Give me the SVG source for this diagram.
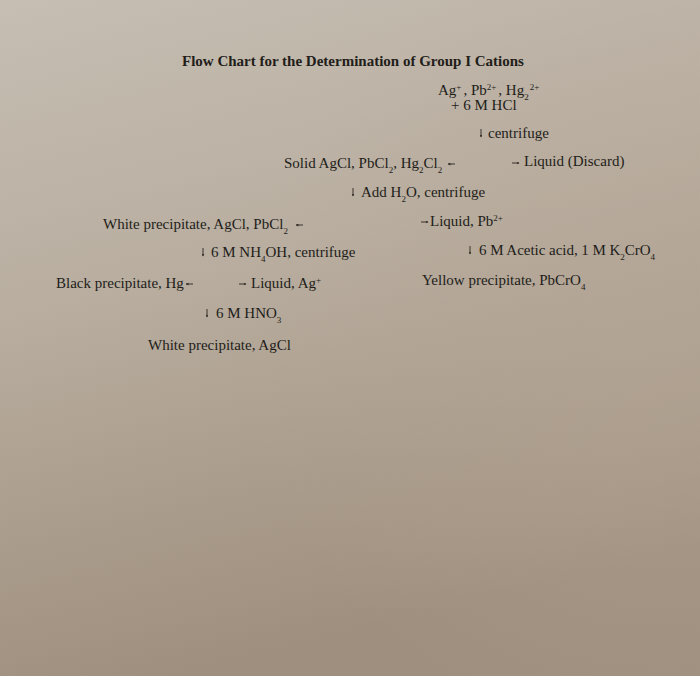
<svg xmlns="http://www.w3.org/2000/svg" width="700" height="676" viewBox="0 0 700 676">
<defs>
<linearGradient id="bg" x1="0" y1="0" x2="0.25" y2="1">
<stop offset="0" stop-color="#c6beb3"/>
<stop offset="0.45" stop-color="#b8ad9f"/>
<stop offset="1" stop-color="#9f8f7e"/>
</linearGradient>
<radialGradient id="shade" cx="0.95" cy="0.5" r="0.6">
<stop offset="0" stop-color="#b7a898" stop-opacity="0.5"/>
<stop offset="1" stop-color="#b7a898" stop-opacity="0"/>
</radialGradient>
<marker id="ah" viewBox="0 0 6 6" refX="5" refY="3" markerWidth="3" markerHeight="3" orient="auto">
<path d="M0,0 L6,3 L0,6 Z" fill="#3a332d"/>
</marker>
<style>
text{font-family:"Liberation Serif","Times New Roman",serif;font-size:15px;fill:#221d19}
.t{font-weight:bold;font-size:15px}
.s{font-size:9px}
.c line{stroke:#3a332d;stroke-width:1;marker-end:url(#ah)}
</style>
</defs>
<rect width="700" height="676" fill="url(#bg)"/>
<rect width="700" height="676" fill="url(#shade)"/>
<g id="title"><text class="t" x="182" y="66">Flow Chart for the Determination of Group I Cations</text></g>
<g id="start">
<text x="438" y="95">Ag<tspan class="s" baseline-shift="super">+</tspan><tspan dx="2">, Pb</tspan><tspan class="s" baseline-shift="super">2+</tspan><tspan dx="2">, Hg</tspan><tspan class="s" baseline-shift="sub">2</tspan><tspan class="s" dx="1" baseline-shift="super">2+</tspan></text>
<text x="451" y="110">+ 6 M HCl</text>
</g>
<g id="step-centrifuge"><text x="488" y="138">centrifuge</text></g>
<g id="solid"><text x="284" y="168">Solid AgCl, PbCl<tspan class="s" baseline-shift="sub">2</tspan>, Hg<tspan class="s" baseline-shift="sub">2</tspan>Cl<tspan class="s" baseline-shift="sub">2</tspan></text></g>
<g id="liquid-discard"><text x="524" y="166">Liquid (Discard)</text></g>
<g id="step-water"><text x="361" y="197">Add H<tspan class="s" baseline-shift="sub">2</tspan>O, centrifuge</text></g>
<g id="white-ppt-1"><text x="103" y="229">White precipitate, AgCl, PbCl<tspan class="s" baseline-shift="sub">2</tspan></text></g>
<g id="liquid-pb"><text x="430" y="226">Liquid, Pb<tspan class="s" baseline-shift="super">2+</tspan></text></g>
<g id="step-nh4oh"><text x="211" y="257">6 M NH<tspan class="s" baseline-shift="sub">4</tspan>OH, centrifuge</text></g>
<g id="step-acetic"><text x="479" y="255" textLength="176">6 M Acetic acid, 1 M K<tspan class="s" baseline-shift="sub">2</tspan>CrO<tspan class="s" baseline-shift="sub">4</tspan></text></g>
<g id="black-ppt"><text x="56" y="288">Black precipitate, Hg</text></g>
<g id="liquid-ag"><text x="251" y="288">Liquid, Ag<tspan class="s" baseline-shift="super">+</tspan></text></g>
<g id="yellow-ppt"><text x="422" y="285">Yellow precipitate, PbCrO<tspan class="s" baseline-shift="sub">4</tspan></text></g>
<g id="step-hno3"><text x="216" y="318">6 M HNO<tspan class="s" baseline-shift="sub">3</tspan></text></g>
<g id="white-ppt-2"><text x="148" y="350">White precipitate, AgCl</text></g>
<g id="connectors" class="c">
<line x1="481" y1="129" x2="481" y2="137"/>
<line x1="455" y1="164" x2="448" y2="164"/>
<line x1="512" y1="163" x2="519" y2="163"/>
<line x1="353" y1="188" x2="353" y2="196"/>
<line x1="303" y1="225" x2="296" y2="225"/>
<line x1="421" y1="222" x2="428" y2="222"/>
<line x1="203" y1="248" x2="203" y2="256"/>
<line x1="470" y1="246" x2="470" y2="254"/>
<line x1="193" y1="284" x2="186" y2="284"/>
<line x1="239" y1="284" x2="246" y2="284"/>
<line x1="207" y1="309" x2="207" y2="317"/>
</g>
</svg>
